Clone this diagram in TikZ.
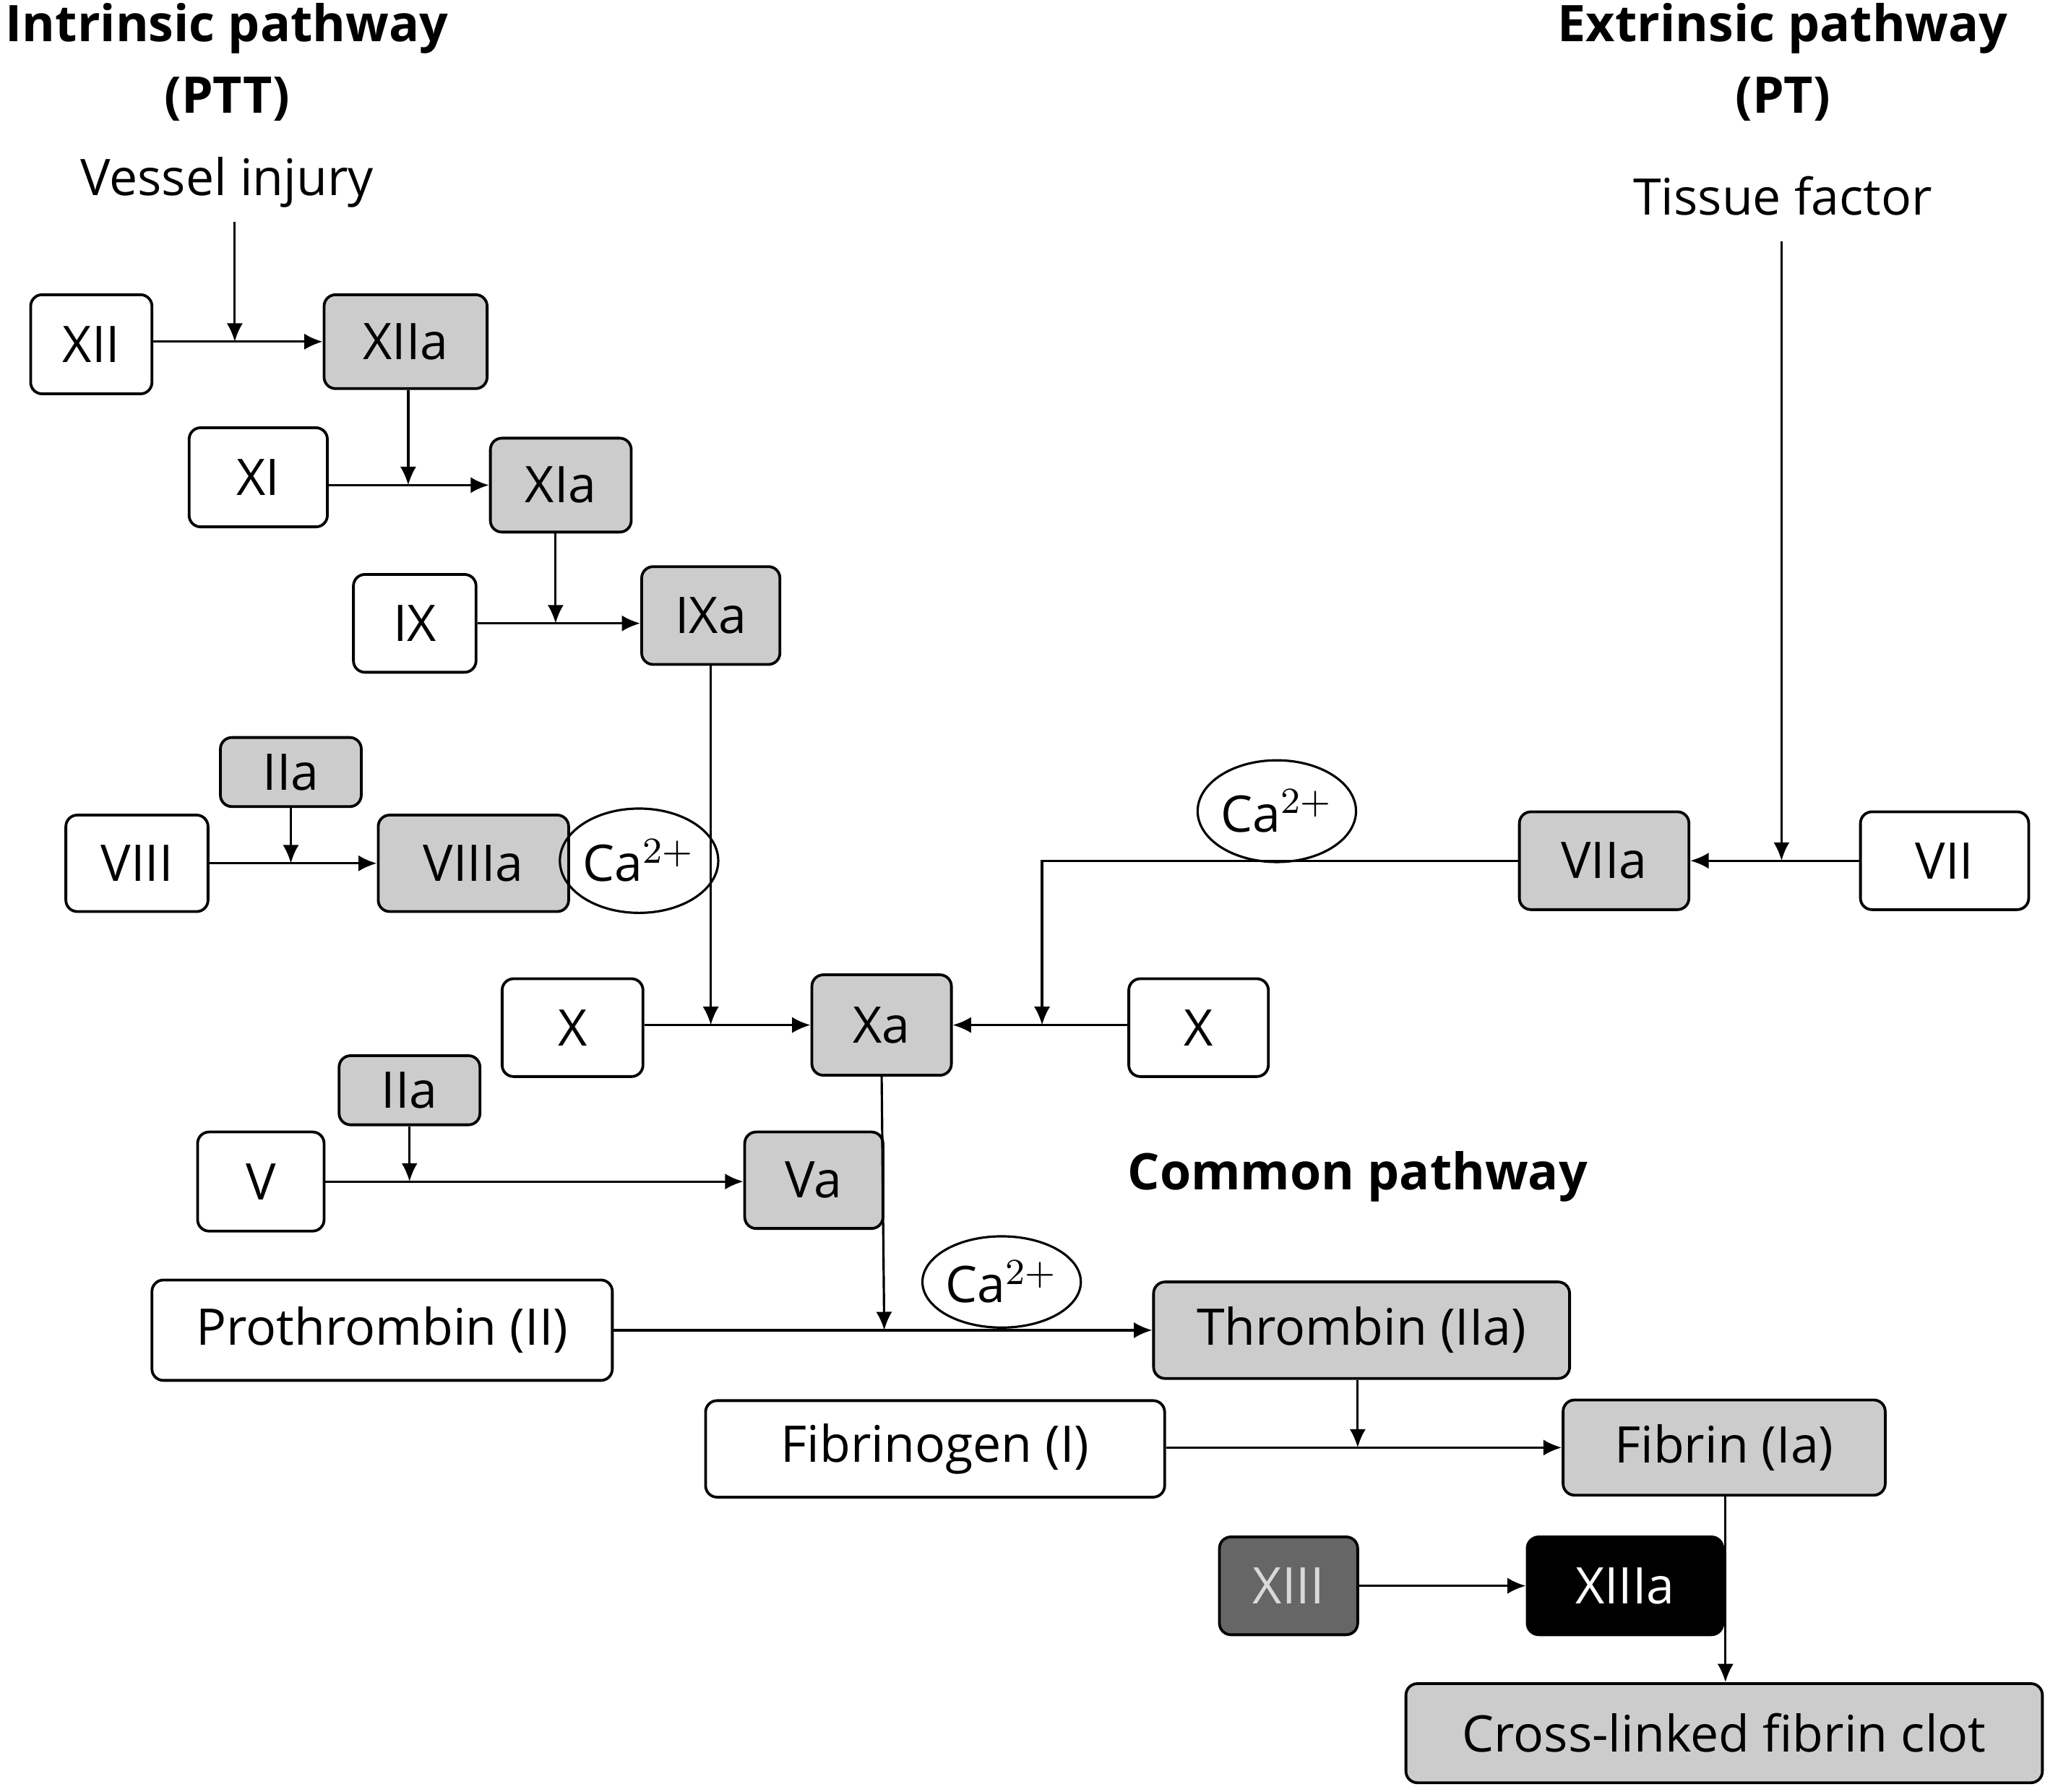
\documentclass[tikz,border=0pt]{standalone}
\usepackage{fontspec}
\setmainfont{Open Sans}
\usetikzlibrary{arrows.meta,shapes.geometric}
\begin{document}
\begin{tikzpicture}[x=0.01cm,y=-0.01cm,
 s/.style 2 args={minimum width=#1*0.01cm,minimum height=#2*0.01cm},
 box/.style={draw,rounded corners=2.5pt,line width=0.6pt,inner sep=0pt,font=\fontsize{11}{13}\selectfont},
 w/.style={box,fill=white},
 g/.style={box,fill=gray!40},
 ca/.style={draw,ellipse,line width=0.5pt,inner sep=0pt,font=\fontsize{11}{13}\selectfont},
 t/.style={font=\fontsize{11}{13}\selectfont},
 tb/.style={font=\bfseries\fontsize{11}{13}\selectfont},
 a/.style={-{Latex[length=4pt,width=3.5pt]},line width=0.5pt}]
\useasboundingbox (0,0) rectangle (1568,1374);
\node[tb] (it1) at (174,22) {Intrinsic pathway};
\node[tb] (it2) at (174,76) {(PTT)};
\node[t] (vi) at (174,140) {Vessel injury};
\node[tb] (et1) at (1367,22) {Extrinsic pathway};
\node[tb] (et2) at (1367,76) {(PT)};
\node[t] (tf) at (1367,150) {Tissue factor};
\node[tb] (cp) at (1041,902) {Common pathway};
\node[w,s={93}{76}] (XII) at (70,264) {XII};
\node[g,s={125}{72}] (XIIa) at (311,262) {XIIa};
\node[w,s={106}{76}] (XI) at (198,366) {XI};
\node[g,s={108}{72}] (XIa) at (430,372) {XIa};
\node[w,s={94}{75}] (IX) at (318,478) {IX};
\node[g,s={106}{75}] (IXa) at (545,472) {IXa};
\node[g,s={108}{53}] (IIa1) at (223,592) {IIa};
\node[w,s={109}{74}] (VIII) at (105,662) {VIII};
\node[g,s={146}{74}] (VIIIa) at (363,662) {VIIIa};
\node[ca,s={106}{80}] (ca1) at (490,660) {Ca$^{2+}$};
\node[ca,s={108}{78}] (ca2) at (979,622) {Ca$^{2+}$};
\node[g,s={130}{75}] (VIIa) at (1230,660) {VIIa};
\node[w,s={129}{75}] (VII) at (1491,660) {VII};
\node[w,s={108}{75}] (XL) at (439,788) {X};
\node[g,s={107}{77}] (Xa) at (676,786) {Xa};
\node[w,s={107}{75}] (XR) at (919,788) {X};
\node[g,s={108}{53}] (IIa2) at (314,836) {IIa};
\node[w,s={97}{76}] (V) at (200,906) {V};
\node[g,s={106}{74}] (Va) at (624,905) {Va};
\node[ca,s={107}{70}] (ca3) at (768,983) {Ca$^{2+}$};
\node[w,s={353}{77}] (PT) at (293,1020) {Prothrombin (II)};
\node[g,s={319}{74}] (TH) at (1044,1020) {Thrombin (IIa)};
\node[w,s={352}{74}] (FG) at (717,1111) {Fibrinogen (I)};
\node[g,s={247}{73}] (FB) at (1322,1110) {Fibrin (Ia)};
\node[box,fill=black!60,text=gray!30,s={106}{75}] (XIII) at (988,1216) {XIII};
\node[box,fill=black,text=white,s={150}{75}] (XIIIa) at (1246,1216) {XIIIa};
\node[g,s={488}{76}] (CL) at (1322,1329) {Cross-linked fibrin clot};
% coordinates
\coordinate (m1) at (180,262); \coordinate (m2) at (313,372); \coordinate (m3) at (426,478);
\coordinate (m4) at (223,662); \coordinate (m5) at (545,786); \coordinate (m6) at (1366,660);
\coordinate (m7) at (799,786); \coordinate (m8) at (314,906); \coordinate (m9) at (678,1020);
\coordinate (m10) at (1041,1110); \coordinate (v0) at (180,170); \coordinate (t0) at (1366,185);
\coordinate (fx) at (1323,0);
\draw[a] (XII.east|-m1) -- (XIIa.west|-m1);
\draw[a] (v0) -- (m1);
\draw[a] (XI.east|-m2) -- (XIa.west|-m2);
\draw[a] (XIIa.south-|m2) -- (m2);
\draw[a] (IX.east|-m3) -- (IXa.west|-m3);
\draw[a] (XIa.south-|m3) -- (m3);
\draw[a] (VIII.east|-m4) -- (VIIIa.west|-m4);
\draw[a] (IIa1) -- (m4);
\draw[a] (XL.east|-m5) -- (Xa.west|-m5);
\draw[a] (IXa.south-|m5) -- (m5);
\draw[a] (VII.west|-m6) -- (VIIa.east|-m6);
\draw[a] (t0) -- (m6);
\draw[a] (VIIa.west) -| (m7);
\draw[a] (XR.west|-m7) -- (Xa.east|-m7);
\draw[a] (V.east|-m8) -- (Va.west|-m8);
\draw[a] (IIa2) -- (m8);
\draw[a] (PT.east|-m9) -- (TH.west|-m9);
\draw[a] (Xa.south) -- (m9);
\draw[a] (FG.east|-m10) -- (FB.west|-m10);
\draw[a] (TH.south-|m10) -- (m10);
\draw[a] (XIII) -- (XIIIa);
\draw[a] (FB.south-|fx) -- (CL.north-|fx);
\end{tikzpicture}
\end{document}
